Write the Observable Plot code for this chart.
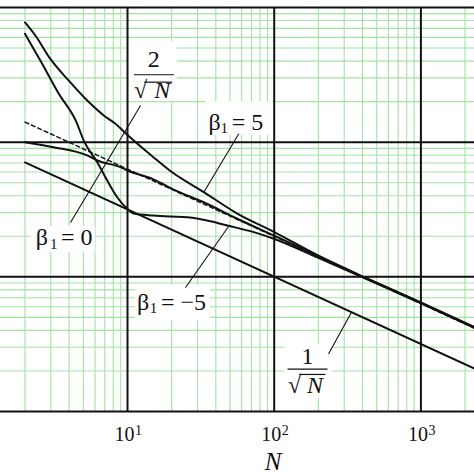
<!DOCTYPE html>
<html><head><meta charset="utf-8">
<script src="https://cdn.jsdelivr.net/npm/d3@7"></script>
<script src="https://cdn.jsdelivr.net/npm/@observablehq/plot@0.6"></script>
<style>html,body{margin:0;padding:0;background:#fff}svg{display:block}</style>
</head><body><div id="chart"></div>
<script>
// ---- curve data (N, value) ----
const beta5N = [2.0, 2.36, 2.98, 3.98, 5.17, 6.89, 8.28, 10, 15, 19.6, 33.1, 56, 99.3, 207, 430, 1000, 2319];
const beta5V = [7.74, 6.17, 4.15, 2.86, 2.10, 1.58, 1.37, 1.13, 0.774, 0.61, 0.426, 0.295, 0.216, 0.141, 0.0973, 0.0645, 0.0423];

const beta0N = [2.0, 3.13, 5.31, 6.22, 8.96, 10, 15, 21.2, 33.1, 56, 99.3, 207, 430, 1000, 2319];
const beta0V = [1.0, 0.918, 0.797, 0.731, 0.652, 0.616, 0.53, 0.438, 0.358, 0.270, 0.203, 0.140, 0.0965, 0.064, 0.042];

const betaM5N = [2.0, 2.62, 3.40, 4.43, 5.09, 6.22, 7.27, 8.51, 9.95, 10.99, 15, 19.6, 25.5, 33.1, 47.9, 72.6, 99.3, 207, 430, 1000, 2319];
const betaM5V = [6.38, 3.82, 2.29, 1.45, 1.0, 0.710, 0.519, 0.390, 0.320, 0.2955, 0.2856, 0.2807, 0.2774, 0.2653, 0.2406, 0.2147, 0.1917, 0.136, 0.0957, 0.0638, 0.0418];

const twoOverRootN = [2.0, 2319];
const twoOverRootV = [1.41, 0.0415];
const oneOverRootN = [2.0, 2319];
const oneOverRootV = [0.707, 0.0208];

// ---- grid ----
const xMajor = [10, 100, 1000];
const yMajor = [0.01, 0.1, 1, 10];
const xMinor = [2,3,4,5,6,7,8,9,20,30,40,50,60,70,80,90,200,300,400,500,600,700,800,900,2000];
const yMinor = [0.02,0.03,0.04,0.05,0.06,0.07,0.08,0.09,0.2,0.3,0.4,0.5,0.6,0.7,0.8,0.9,2,3,4,5,6,7,8,9];
const xTickBase = ["10", "10", "10"];
const xTickExp = ["1", "2", "3"];
const xAxisTitle = "N";

// ---- annotations (data coordinates) ----
const boxes = [
  {x1: 10.05, x2: 21.9, y1: 2.0, y2: 5.6},      // 2/sqrt(N)
  {x1: 34.0, x2: 97.0, y1: 1.12, y2: 2.0},      // beta1 = 5
  {x1: 2.18, x2: 6.05, y1: 0.1517, y2: 0.2366},  // beta1 = 0
  {x1: 11.34, x2: 36.8, y1: 0.0474, y2: 0.0863}, // beta1 = -5
  {x1: 117.5, x2: 249.7, y1: 0.0125, y2: 0.0315} // 1/sqrt(N)
];
const leaders = [
  {x1: 12.27, y1: 1.873, x2: 4.088, y2: 0.2533},
  {x1: 57.37, y1: 1.154, x2: 33.12, y2: 0.4253},
  {x1: 24.86, y1: 0.0834, x2: 48.82, y2: 0.2366},
  {x1: 234.5, y1: 0.02675, x2: 336.5, y2: 0.0545}
];
const bars = [
  {x1: 11.04, x2: 20.69, y: 3.166},   // fraction bar 2/sqrtN
  {x1: 13.0, x2: 20.17, y: 2.79},     // radical overbar
  {x1: 123.2, x2: 230.9, y: 0.02063}, // fraction bar 1/sqrtN
  {x1: 148.0, x2: 223.7, y: 0.01884}  // radical overbar
];
const labelText = [
  {N: 15.11, v: 3.618, t: "2", size: 24, style: "normal", anchor: "middle"},
  {N: 12.27, v: 2.111, t: "\u221A", size: 24, style: "normal", anchor: "middle"},
  {N: 17.24, v: 2.111, t: "N", size: 24, style: "italic", anchor: "middle"},
  {N: 168.7, v: 0.02235, t: "1", size: 24, style: "normal", anchor: "middle"},
  {N: 137.5, v: 0.01361, t: "\u221A", size: 24, style: "normal", anchor: "middle"},
  {N: 189.7, v: 0.01361, t: "N", size: 24, style: "italic", anchor: "middle"},
  {N: 39.3, v: 1.221, t: "\u03B2", size: 24, style: "normal", anchor: "middle"},
  {N: 45.6, v: 1.16, t: "1", size: 15, style: "normal", anchor: "middle"},
  {N: 51.3, v: 1.221, t: "= 5", size: 24, style: "normal", anchor: "start"},
  {N: 2.61, v: 0.171, t: "\u03B2", size: 24, style: "normal", anchor: "middle"},
  {N: 3.14, v: 0.1597, t: "1", size: 15, style: "normal", anchor: "middle"},
  {N: 3.52, v: 0.171, t: "= 0", size: 24, style: "normal", anchor: "start"},
  {N: 12.75, v: 0.0563, t: "\u03B2", size: 24, style: "normal", anchor: "middle"},
  {N: 15.05, v: 0.0535, t: "1", size: 15, style: "normal", anchor: "middle"},
  {N: 16.9, v: 0.0563, t: "= \u22125", size: 24, style: "normal", anchor: "start"}
];

const toRows = (ns, vs, s) => ns.map((n, i) => ({N: n, v: vs[i], s}));
const curves = [
  ...toRows(beta5N, beta5V, "β1 = 5"),
  ...toRows(beta0N, beta0V, "β1 = 0"),
  ...toRows(betaM5N, betaM5V, "β1 = −5"),
  ...toRows(oneOverRootN, oneOverRootV, "1/√N")
];
const dashed = toRows(twoOverRootN, twoOverRootV, "2/√N");
const serif = "Liberation Serif, Times New Roman, serif";

const labelMarks = [["normal", "middle"], ["italic", "middle"], ["normal", "start"]].map(([st, an]) =>
  Plot.text(labelText.filter(d => d.style === st && d.anchor === an), {
    x: "N", y: "v", text: "t", fontSize: "size", fontStyle: st, textAnchor: an,
    lineAnchor: "bottom", fill: "#111", fontFamily: serif
  })
);

const chart = Plot.plot({
  width: 474, height: 474,
  marginLeft: 0, marginRight: 0, marginTop: 7, marginBottom: 63,
  x: {type: "log", domain: [1.362, 2319], axis: null},
  y: {type: "log", domain: [0.01, 10], axis: null},
  style: {fontFamily: serif, background: "white"},
  marks: [
    Plot.ruleX(xMinor, {stroke: "#a3e2a3", strokeWidth: 1.1}),
    Plot.ruleY(yMinor, {stroke: "#a3e2a3", strokeWidth: 1.1}),
    Plot.rect(boxes, {x1: "x1", x2: "x2", y1: "y1", y2: "y2", fill: "white"}),
    Plot.ruleX(xMajor, {stroke: "#111", strokeWidth: 2}),
    Plot.ruleY(yMajor, {stroke: "#111", strokeWidth: 2}),
    Plot.line(dashed, {x: "N", y: "v", stroke: "#111", strokeWidth: 1.4, strokeDasharray: "4,3"}),
    Plot.line(curves, {x: "N", y: "v", z: "s", stroke: "#111", strokeWidth: 2, curve: "monotone-x"}),
    Plot.link(leaders, {x1: "x1", y1: "y1", x2: "x2", y2: "y2", stroke: "#111", strokeWidth: 1.1}),
    Plot.link(bars, {x1: "x1", x2: "x2", y1: "y", y2: "y", stroke: "#111", strokeWidth: 1.2}),
    ...labelMarks,
    Plot.text(xMajor, {x: d => d, frameAnchor: "bottom", text: (d, i) => xTickBase[i], dx: -3, dy: 29,
      lineAnchor: "bottom", fontSize: 20, fill: "#111", fontFamily: serif}),
    Plot.text(xMajor, {x: d => d, frameAnchor: "bottom", text: (d, i) => xTickExp[i], dx: 11, dy: 23,
      lineAnchor: "bottom", fontSize: 14, fill: "#111", fontFamily: serif}),
    Plot.text([100], {x: d => d, frameAnchor: "bottom", text: () => xAxisTitle, dx: -1, dy: 58,
      lineAnchor: "bottom", fontSize: 25, fontStyle: "italic", fill: "#111", fontFamily: serif})
  ]
});
document.getElementById("chart").appendChild(chart);
</script>
</body></html>
